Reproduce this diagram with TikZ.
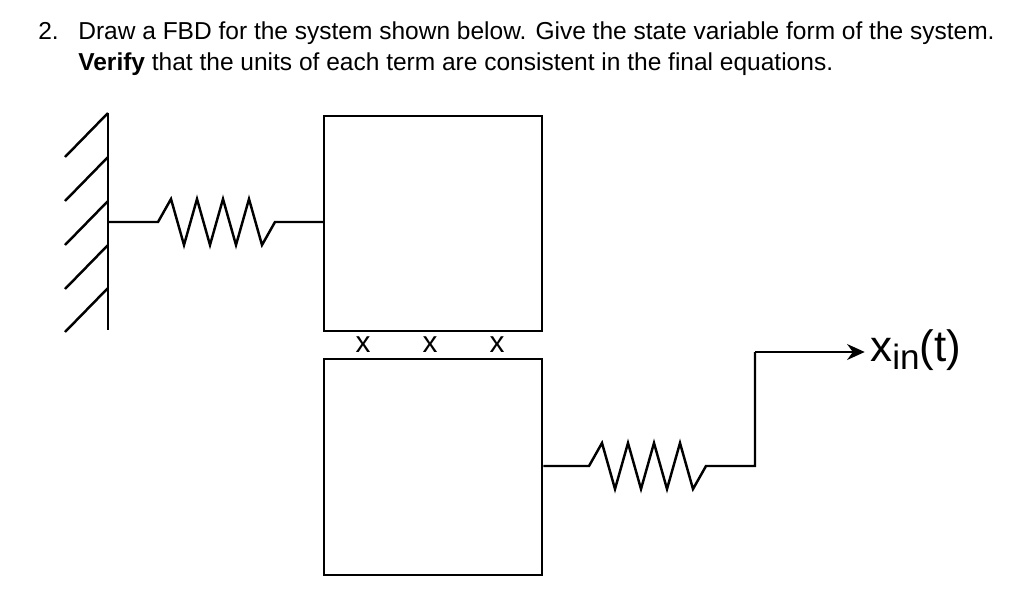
\documentclass[tikz,border=0pt]{standalone}
\usepackage{fontspec}
\setmainfont{Liberation Sans}
\usetikzlibrary{arrows.meta}
\begin{document}
\begin{tikzpicture}[x=0.02cm,y=-0.02cm,
  ln/.style={line width=1.4pt},
  txt/.style={anchor=base west,inner sep=0pt,font=\fontsize{13.95}{16}\selectfont},
  mk/.style={inner sep=0pt,font=\fontsize{17}{18}\selectfont}]
\useasboundingbox (0,0) rectangle (1024,615);
\node[txt] (n2) at (38,40) {2.};
\node[txt] (l1) at (78,40) {Draw a FBD for the system shown below. Give the state variable form of the system.};
\node[txt] (l2) at (78,71) {\textbf{Verify} that the units of each term are consistent in the final equations.};
% wall
\draw[ln] (108,113) -- (108,330);
\foreach \y in {113,157,201,245,288} \draw[ln] (108,\y) -- ++(-43,44);
% boxes
\node[draw,ln,minimum width=218*0.02cm,minimum height=215*0.02cm,anchor=north west,inner sep=0pt] (m1) at (323,115) {};
\node[draw,ln,minimum width=218*0.02cm,minimum height=216*0.02cm,anchor=north west,inner sep=0pt] (m2) at (323,358) {};
% upper spring
\draw[ln,line join=miter] (108,222) -- (158,222) -- (171,199) -- (184,245) -- (197,199) -- (210,245) -- (223,199) -- (236,245) -- (249,199) -- (262,245) -- (275,222) -- (m1.west |- 0,222);
% lower spring
\coordinate (c1) at (755,466);
\coordinate (c2) at (755,352);
\draw[ln,line join=miter] (m2.east |- 0,466) -- (589,466) -- (602,443) -- (615,489) -- (628,443) -- (641,489) -- (654,443) -- (667,489) -- (680,443) -- (693,489) -- (706,466) -- (c1) -- (c2);
\node[anchor=west,inner sep=0pt,font=\fontsize{25}{26}\selectfont] (xin) at (870,350) {x\raisebox{-0.35ex}{\fontsize{20}{21}\selectfont in}(t)};
\draw[ln,-{Stealth[length=10pt,width=9pt]}] (c2) -- ([xshift=-3pt]xin.west |- c2);
% x markers
\node[mk] (x1) at (363,345) {x};
\node[mk] (x2) at (430,345) {x};
\node[mk] (x3) at (497,345) {x};
\end{tikzpicture}
\end{document}
